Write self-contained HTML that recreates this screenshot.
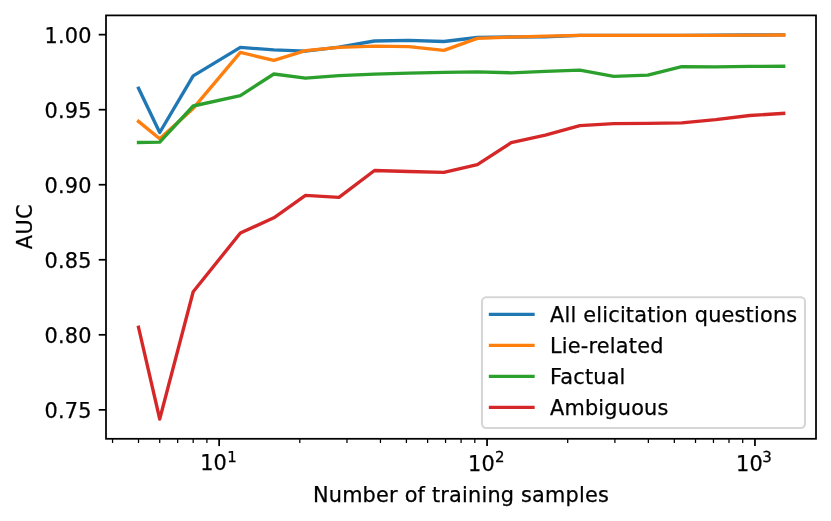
<!DOCTYPE html>
<html><head><meta charset="utf-8"><title>AUC vs number of training samples</title>
<style>html,body{margin:0;padding:0;background:#fff}svg{display:block}</style></head>
<body>
<svg width="831" height="521" viewBox="0 0 831 521" style="display:block">
<rect width="831" height="521" fill="#fff"/>
<g>
<polyline points="138.51,88.20 159.72,132.50 193.19,75.90 240.37,47.40 273.84,49.90 305.48,51.20 338.95,47.20 374.48,41.00 408.71,40.40 443.88,41.50 477.35,37.50 511.14,37.00 545.32,36.90 579.84,35.40 613.71,35.40 647.76,35.40 681.74,35.40 715.76,35.10 749.72,35.00 783.68,34.90" fill="none" stroke="#1f77b4" stroke-width="3.35" stroke-linecap="square" stroke-linejoin="round"/>
<polyline points="138.51,121.40 159.72,138.70 193.19,108.40 240.37,52.40 273.84,60.40 305.48,50.60 338.95,47.30 374.48,46.20 408.71,46.70 443.88,50.40 477.35,38.40 511.14,37.10 545.32,36.20 579.84,35.40 613.71,35.40 647.76,35.40 681.74,35.40 715.76,35.30 749.72,35.20 783.68,35.00" fill="none" stroke="#ff7f0e" stroke-width="3.35" stroke-linecap="square" stroke-linejoin="round"/>
<polyline points="138.51,142.50 159.72,142.20 193.19,106.00 240.37,95.70 273.84,74.00 305.48,78.20 338.95,75.70 374.48,74.20 408.71,73.10 443.88,72.30 477.35,71.80 511.14,72.80 545.32,71.40 579.84,70.10 613.71,76.40 647.76,75.20 681.74,66.60 715.76,66.90 749.72,66.40 783.68,66.30" fill="none" stroke="#2ca02c" stroke-width="3.35" stroke-linecap="square" stroke-linejoin="round"/>
<polyline points="138.51,327.30 159.72,419.00 193.19,291.70 240.37,233.00 273.84,217.80 305.48,195.40 338.95,197.30 374.48,170.50 408.71,171.50 443.88,172.40 477.35,164.70 511.14,142.70 545.32,135.10 579.84,125.60 613.71,123.70 647.76,123.40 681.74,122.80 715.76,119.70 749.72,115.50 783.68,113.40" fill="none" stroke="#d62728" stroke-width="3.35" stroke-linecap="square" stroke-linejoin="round"/>
</g>
<g stroke="#000" stroke-width="1.75" fill="none">
<line x1="219.15" y1="438.8" x2="219.15" y2="446.09"/>
<line x1="487.05" y1="438.8" x2="487.05" y2="446.09"/>
<line x1="754.95" y1="438.8" x2="754.95" y2="446.09"/>
<line x1="106.0" y1="34.65" x2="98.71" y2="34.65"/>
<line x1="106.0" y1="109.69" x2="98.71" y2="109.69"/>
<line x1="106.0" y1="184.73" x2="98.71" y2="184.73"/>
<line x1="106.0" y1="259.77" x2="98.71" y2="259.77"/>
<line x1="106.0" y1="334.81" x2="98.71" y2="334.81"/>
<line x1="106.0" y1="409.85" x2="98.71" y2="409.85"/>
</g>
<g stroke="#000" stroke-width="1.25" fill="none">
<line x1="112.55" y1="438.8" x2="112.55" y2="442.97"/>
<line x1="138.51" y1="438.8" x2="138.51" y2="442.97"/>
<line x1="159.72" y1="438.8" x2="159.72" y2="442.97"/>
<line x1="177.66" y1="438.8" x2="177.66" y2="442.97"/>
<line x1="193.19" y1="438.8" x2="193.19" y2="442.97"/>
<line x1="206.90" y1="438.8" x2="206.90" y2="442.97"/>
<line x1="299.80" y1="438.8" x2="299.80" y2="442.97"/>
<line x1="346.98" y1="438.8" x2="346.98" y2="442.97"/>
<line x1="380.45" y1="438.8" x2="380.45" y2="442.97"/>
<line x1="406.41" y1="438.8" x2="406.41" y2="442.97"/>
<line x1="427.62" y1="438.8" x2="427.62" y2="442.97"/>
<line x1="445.56" y1="438.8" x2="445.56" y2="442.97"/>
<line x1="461.09" y1="438.8" x2="461.09" y2="442.97"/>
<line x1="474.80" y1="438.8" x2="474.80" y2="442.97"/>
<line x1="567.70" y1="438.8" x2="567.70" y2="442.97"/>
<line x1="614.88" y1="438.8" x2="614.88" y2="442.97"/>
<line x1="648.35" y1="438.8" x2="648.35" y2="442.97"/>
<line x1="674.31" y1="438.8" x2="674.31" y2="442.97"/>
<line x1="695.52" y1="438.8" x2="695.52" y2="442.97"/>
<line x1="713.46" y1="438.8" x2="713.46" y2="442.97"/>
<line x1="728.99" y1="438.8" x2="728.99" y2="442.97"/>
<line x1="742.70" y1="438.8" x2="742.70" y2="442.97"/>
</g>
<rect x="106.0" y="15.4" width="710.0" height="423.40000000000003" fill="none" stroke="#000" stroke-width="1.75"/>
<g font-family="'DejaVu Sans', 'Liberation Sans', sans-serif" font-size="20.83px" fill="#000" stroke="#000" stroke-width="0.25" letter-spacing="0.2">
<text x="91.67" y="42.95" text-anchor="end">1.00</text>
<text x="91.67" y="117.99" text-anchor="end">0.95</text>
<text x="91.67" y="193.03" text-anchor="end">0.90</text>
<text x="91.67" y="268.07" text-anchor="end">0.85</text>
<text x="91.67" y="343.11" text-anchor="end">0.80</text>
<text x="91.67" y="418.15" text-anchor="end">0.75</text>
<text x="200.15" y="470.2">10</text>
<text x="227.15" y="462.1" font-size="15.0px" style="text-rendering:geometricPrecision">1</text>
<text x="468.05" y="471.2">10</text>
<text x="495.05" y="462.1" font-size="15.0px" style="text-rendering:geometricPrecision">2</text>
<text x="735.95" y="471.2">10</text>
<text x="762.25" y="462.1" font-size="15.0px" style="text-rendering:geometricPrecision">3</text>
<text x="461.0" y="502.1" text-anchor="middle">Number of training samples</text>
<text transform="translate(31.6,226.6) rotate(-90)" text-anchor="middle" letter-spacing="0.4">AUC</text>
<rect x="482.0" y="297.2" width="323.0" height="130.8" rx="4.17" ry="4.17" fill="#fff" fill-opacity="0.8" stroke="#ccc" stroke-opacity="0.8" stroke-width="2.083"/>
<line x1="490.5" y1="314.30" x2="533.0" y2="314.30" stroke="#1f77b4" stroke-width="3.35" stroke-linecap="square"/>
<text x="550.0" y="321.60">All elicitation questions</text>
<line x1="490.5" y1="345.30" x2="533.0" y2="345.30" stroke="#ff7f0e" stroke-width="3.35" stroke-linecap="square"/>
<text x="550.0" y="352.60">Lie-related</text>
<line x1="490.5" y1="376.30" x2="533.0" y2="376.30" stroke="#2ca02c" stroke-width="3.35" stroke-linecap="square"/>
<text x="550.0" y="383.60">Factual</text>
<line x1="490.5" y1="407.30" x2="533.0" y2="407.30" stroke="#d62728" stroke-width="3.35" stroke-linecap="square"/>
<text x="550.0" y="414.60">Ambiguous</text>
</g>
</svg>
</body></html>
